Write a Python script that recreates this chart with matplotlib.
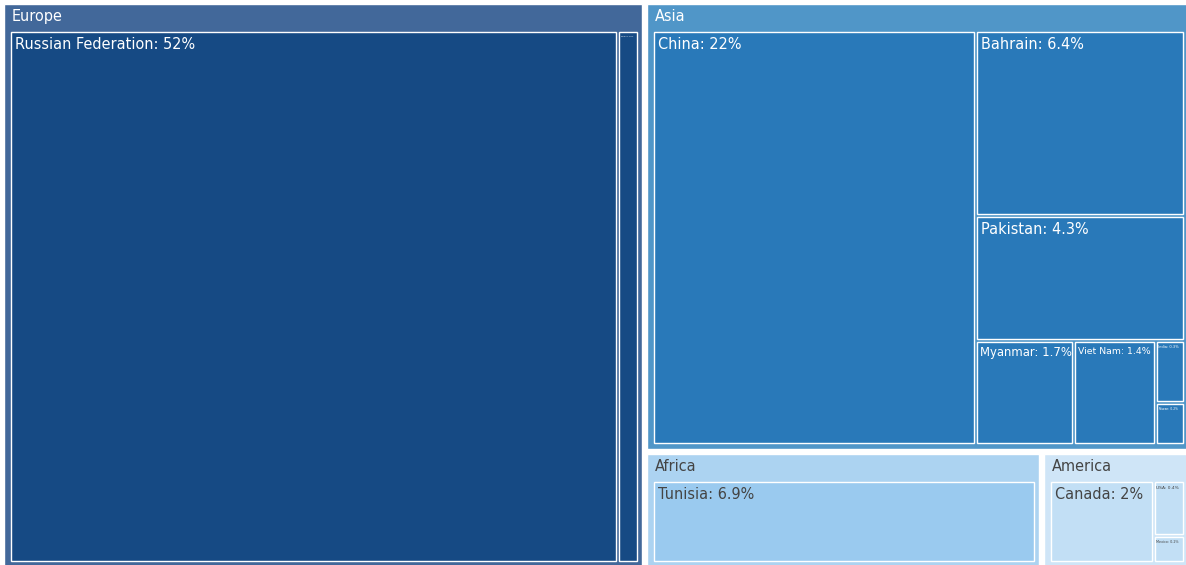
"""Treemap: share by country, grouped by continent."""

import matplotlib
import matplotlib.pyplot as plt
import matplotlib.patches as mpatches
from matplotlib.font_manager import FontProperties
from matplotlib.textpath import TextPath

matplotlib.use("Agg")

# data
countries = ["Russian Federation", "Ukraine", "China", "Bahrain", "Pakistan",
             "Myanmar", "Viet Nam", "India", "Taiwan", "Tunisia", "Canada",
             "USA", "Mexico"]
continents = ["Europe", "Europe", "Asia", "Asia", "Asia", "Asia", "Asia",
              "Asia", "Asia", "Africa", "America", "America", "America"]
shares = [52.2, 1.8, 22, 6.4, 4.3, 1.7, 1.4, 0.3, 0.2, 6.9, 2.0, 0.4, 0.2]
share_labels = ["52%", "1.8%", "22%", "6.4%", "4.3%", "1.7%", "1.4%",
                "0.3%", "0.2%", "6.9%", "2%", "0.4%", "0.2%"]

# colours (header, leaf, text)
COLORS = {
    "Europe":  ("#42689a", "#164a84", "white"),
    "Asia":    ("#5096c8", "#2979b9", "white"),
    "Africa":  ("#acd3f1", "#9acaef", "#444444"),
    "America": ("#cfe5f7", "#c2dff5", "#444444"),
}

W, H = 1186, 565
ROOT = (4, 4, 1188, 567)
ROOT_PAD = 5
INNER_PAD = 3
PAD_L, PAD_R, PAD_T, PAD_B = 7, 5, 28, 6
BASE_PX = 14.5
FP = FontProperties(family="DejaVu Sans")


def squarify(values, x0, y0, x1, y1, ratio=1.0):
    """d3 squarifyRatio; values sorted descending. Returns rects in order."""
    rects = [None] * len(values)
    total = float(sum(values))
    i0 = 0
    n = len(values)
    while i0 < n:
        dx, dy = x1 - x0, y1 - y0
        i1 = i0 + 1
        s = values[i0]
        vmin = vmax = s
        alpha = max(dy / dx, dx / dy) / (total * ratio)
        beta = s * s * alpha
        best = max(vmax / beta, beta / vmin)
        while i1 < n:
            v = values[i1]
            s2 = s + v
            beta = s2 * s2 * alpha
            nr = max(max(vmax, v) / beta, beta / min(vmin, v))
            if nr > best:
                break
            s, best = s2, nr
            vmin, vmax = min(vmin, v), max(vmax, v)
            i1 += 1
        if dx < dy:  # row across the top
            yb = y0 + dy * s / total
            xx = x0
            for k in range(i0, i1):
                w = dx * values[k] / s
                rects[k] = (xx, y0, xx + w, yb)
                xx += w
            y0 = yb
        else:        # column at the left
            xb = x0 + dx * s / total
            yy = y0
            for k in range(i0, i1):
                h = dy * values[k] / s
                rects[k] = (x0, yy, xb, yy + h)
                yy += h
            x0 = xb
        total -= s
        i0 = i1
    return rects


def shrink(r, p):
    return (r[0] + p, r[1] + p, r[2] - p, r[3] - p)


def text_w(s, px):
    return TextPath((0, 0), s, size=px, prop=FP).get_extents().width


def draw_label(ax, rect, s, color, inset=4):
    x0, y0, x1, y1 = rect
    w, h = x1 - x0, y1 - y0
    px = BASE_PX
    tw = text_w(s, px)
    avail = w - 2 * inset + 2
    if tw > avail:
        px = px * avail / tw
    px = min(px, (h - 4) / 1.2)
    off = 3 + 0.95 * px
    ins = inset if px >= BASE_PX - 0.01 else max(1.5, inset * px / BASE_PX)
    ax.text(x0 + ins, y0 + off, s, fontsize=px * 0.72, color=color,
            ha="left", va="baseline", fontfamily="DejaVu Sans")


fig = plt.figure(figsize=(W / 100, H / 100), dpi=100, facecolor="white")
ax = fig.add_axes([0, 0, 1, 1])
ax.set_xlim(0, W)
ax.set_ylim(H, 0)
ax.axis("off")

# group
groups = []
for c in dict.fromkeys(continents):
    idx = [i for i, k in enumerate(continents) if k == c]
    idx.sort(key=lambda i: -shares[i])
    groups.append((c, idx, sum(shares[i] for i in idx)))
groups.sort(key=lambda g: -g[2])

p = ROOT_PAD / 2
top_rects = squarify([g[2] for g in groups], ROOT[0] - p, ROOT[1] - p,
                     ROOT[2] + p, ROOT[3] + p)

for (name, idx, tot), r in zip(groups, top_rects):
    r = shrink(r, p)
    head, leaf, tcol = COLORS[name]
    ax.add_patch(mpatches.Rectangle((r[0], r[1]), r[2] - r[0], r[3] - r[1],
                                    facecolor=head, edgecolor="white", lw=1))
    draw_label(ax, (r[0] + 4, r[1], r[2], r[1] + PAD_T), name, tcol)

    q = INNER_PAD / 2
    cx0, cy0 = r[0] + PAD_L - q, r[1] + PAD_T - q
    cx1, cy1 = r[2] - PAD_R + q, r[3] - PAD_B + q
    kids = squarify([shares[i] for i in idx], cx0, cy0, cx1, cy1)
    for i, kr in zip(idx, kids):
        kr = shrink(kr, q)
        ax.add_patch(mpatches.Rectangle((kr[0], kr[1]), kr[2] - kr[0],
                                        kr[3] - kr[1], facecolor=leaf,
                                        edgecolor="white", lw=1))
        draw_label(ax, kr, f"{countries[i]}: {share_labels[i]}", tcol)

fig.savefig("out.png", dpi=100, facecolor="white")
